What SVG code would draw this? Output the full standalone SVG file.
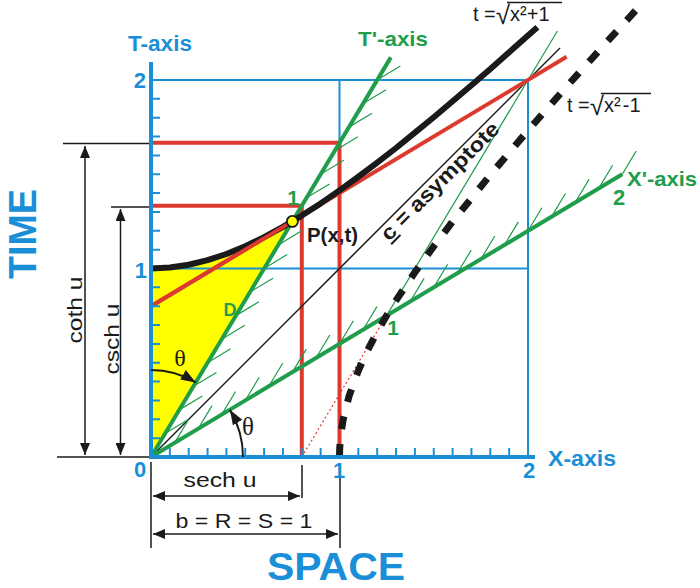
<svg xmlns="http://www.w3.org/2000/svg" width="700" height="588" viewBox="0 0 700 588">
<defs>
<style>
.blue{stroke:#1a8fd8;fill:none}
.red{stroke:#dc3a2f;fill:none;stroke-width:4}
.grn{stroke:#1f9d4b;fill:none}
.blk{stroke:#1a1a1a;fill:none}
.tb{fill:#1a8fd8;font-family:"Liberation Sans",Arial,sans-serif;font-weight:bold}
.tg{fill:#1f9d4b;font-family:"Liberation Sans",Arial,sans-serif;font-weight:bold}
.tk{fill:#1a1a1a;font-family:"Liberation Sans",Arial,sans-serif}
.th{fill:#1a1a1a;font-family:"Liberation Serif","Times New Roman",serif}
</style>
<marker id="arr" viewBox="0 0 12 10" refX="12" refY="5" markerWidth="12" markerHeight="10" markerUnits="userSpaceOnUse" orient="auto-start-reverse">
<path d="M0,0 L12,5 L0,10 z" fill="#1a1a1a"/>
</marker>
<marker id="arrb" viewBox="0 0 15 11" refX="15" refY="5.5" markerWidth="15" markerHeight="11" markerUnits="userSpaceOnUse" orient="auto">
<path d="M0,0 L15,5.5 L0,11 z" fill="#1a1a1a"/>
</marker>
</defs>
<rect width="700" height="588" fill="#ffffff"/>

<g id="sector">
<path d="M151,457 L151,268.5 169.85,267.56 188.7,264.77 207.55,260.2 226.4,254 245.25,246.25 264.1,237.17 282.95,226.9 292.4,221.4 Z" fill="#ffff00"/>
</g>

<g id="grid" class="blue" stroke-width="2">
<path d="M151,80 H528 V457 M151,268.5 H528 M339.5,80 V457"/>
</g>

<g id="red-boxes" class="red">
<path d="M151,142.8 H339.5 V457"/>
<path d="M151,205.7 H301.8 V457"/>
<path d="M301.8,457 L386.6,315.6" stroke-width="1.2" stroke-dasharray="2 2.5"/>
</g>

<g id="asymptote" class="blk" stroke-width="1.5">
<path d="M151,457 L560,48"/>
</g>

<g id="hatches" class="grn" stroke-width="1.2">
<path d="M165.14,433.44 l23.1,-13.9 M179.28,409.88 l23.1,-13.9 M193.41,386.31 l23.1,-13.9 M207.55,362.75 l23.1,-13.9 M221.69,339.19 l23.1,-13.9 M235.83,315.63 l23.1,-13.9 M249.96,292.06 l23.1,-13.9 M264.1,268.5 l23.1,-13.9 M278.24,244.94 l23.1,-13.9 M292.38,221.38 l23.1,-13.9 M306.51,197.81 l23.1,-13.9 M320.65,174.25 l23.1,-13.9 M334.79,150.69 l23.1,-13.9 M348.93,127.13 l23.1,-13.9 M363.06,103.56 l23.1,-13.9 M377.2,80 l23.1,-13.9"/>
<path d="M174.56,442.86 l13.9,-23.1 M198.13,428.73 l13.9,-23.1 M221.69,414.59 l13.9,-23.1 M245.25,400.45 l13.9,-23.1 M268.81,386.31 l13.9,-23.1 M292.38,372.18 l13.9,-23.1 M315.94,358.04 l13.9,-23.1 M339.5,343.9 l13.9,-23.1 M363.06,329.76 l13.9,-23.1 M410.19,301.49 l13.9,-23.1 M433.75,287.35 l13.9,-23.1 M457.31,273.21 l13.9,-23.1 M480.88,259.08 l13.9,-23.1 M504.44,244.94 l13.9,-23.1 M528,230.8 l13.9,-23.1 M551.56,216.66 l13.9,-23.1 M575.13,202.53 l13.9,-23.1 M598.69,188.39 l13.9,-23.1 M622.25,174.25 l13.9,-23.1"/>
<path d="M386.6,315.6 L557.4,31"/>
</g>

<g id="t-prime-axis" class="grn" stroke-width="4">
<path d="M151,457 L390.8,57.4"/>
</g>
<g id="x-prime-axis" class="grn" stroke-width="4">
<path d="M151,457 L622.25,174.25"/>
</g>

<g id="tangent" class="red">
<path d="M151,306.2 L566.6,56.8"/>
</g>

<g id="hyperbola-upper" class="blk" stroke-width="6" stroke-linejoin="round">
<path d="M151,268.5 L169.85,267.56 188.7,264.77 207.55,260.2 226.4,254 245.25,246.25 264.1,237.17 282.95,226.9 301.8,215.6 320.65,203.4 339.5,190.4 358.35,176.8 377.2,162.6 396.05,148 414.9,132.7 433.75,117.2 452.6,101.3 471.45,85.2 490.3,68.9 509.15,52.3 528,35.5 537.4,27.3"/>
</g>
<g id="tangent-top" class="red">
<path d="M151,306.2 L292.4,221.4"/>
</g>

<g id="hyperbola-lower" class="blk" stroke-width="7" stroke-dasharray="13 15">
<path d="M339.5,457 L339.69,448.6 340.44,438.1 341.4,430.3 343.27,419.1 348.9,396.6 358.35,370.6 367.8,349.95 377.2,331.97 386.6,315.6 396.05,300.4 414.9,272.3 433.75,246.25 452.6,221.6 490.3,174.9 528,130.5 565.7,87.6 603.4,45.75 637.3,8.7"/>
</g>

<g id="axes" class="blue">
<path d="M151,62 V459 M149,457 H535" stroke-width="4"/>
<path stroke-width="2" d="M151,438.15h9 M151,419.3h9 M151,400.45h9 M151,381.6h9 M151,362.75h9 M151,343.9h9 M151,325.05h9 M151,306.2h9 M151,287.35h9 M151,249.65h9 M151,230.8h9 M151,211.95h9 M151,193.1h9 M151,174.25h9 M151,155.4h9 M151,136.55h9 M151,117.7h9 M151,98.85h9 M169.85,457v-9 M188.7,457v-9 M207.55,457v-9 M226.4,457v-9 M245.25,457v-9 M264.1,457v-9 M282.95,457v-9 M301.8,457v-9 M320.65,457v-9 M358.35,457v-9 M377.2,457v-9 M396.05,457v-9 M414.9,457v-9 M433.75,457v-9 M452.6,457v-9 M471.45,457v-9 M490.3,457v-9 M509.15,457v-9"/>
</g>

<g id="angles" class="blk" stroke-width="2">
<path d="M151,370 A87,87 0 0 1 195.8,382.4" marker-end="url(#arrb)"/>
<path d="M243,457 A92,92 0 0 0 229.9,409.7" marker-end="url(#arrb)"/>
</g>

<g id="dimensions" class="blk" stroke-width="1.5">
<path d="M63,143.5 H149 M111,207 H149 M57,457 H149 M151,462 V548 M302,465 V498 M340,465 V548"/>
<path d="M85,146 V455" marker-start="url(#arr)" marker-end="url(#arr)"/>
<path d="M120.5,209 V455" marker-start="url(#arr)" marker-end="url(#arr)"/>
<path d="M153,496 H300" marker-start="url(#arr)" marker-end="url(#arr)"/>
<path d="M153,534 H338" marker-start="url(#arr)" marker-end="url(#arr)"/>
</g>

<g id="point-p">
<circle cx="292.4" cy="221.4" r="5.5" fill="#ffff00" stroke="#1a1a1a" stroke-width="1.8"/>
</g>

<g id="labels">
<text class="tb" x="128" y="51" font-size="22" textLength="64" lengthAdjust="spacingAndGlyphs">T-axis</text>
<text class="tb" x="548" y="466" font-size="22" textLength="68" lengthAdjust="spacingAndGlyphs">X-axis</text>
<text class="tb" x="146" y="88" font-size="22" text-anchor="end">2</text>
<text class="tb" x="147" y="278" font-size="22" text-anchor="end">1</text>
<text class="tb" x="140" y="477" font-size="22" text-anchor="middle">0</text>
<text class="tb" x="339" y="478" font-size="22" text-anchor="middle">1</text>
<text class="tb" x="529" y="478" font-size="22" text-anchor="middle">2</text>
<text class="tb" transform="translate(36,234) rotate(-90)" x="0" y="0" font-size="38" text-anchor="middle" textLength="90" lengthAdjust="spacingAndGlyphs">TIME</text>
<text class="tb" x="336" y="580" font-size="38" text-anchor="middle" textLength="138" lengthAdjust="spacingAndGlyphs">SPACE</text>

<text class="tg" x="358" y="46" font-size="21" textLength="70" lengthAdjust="spacingAndGlyphs">T'-axis</text>
<text class="tg" x="627" y="186" font-size="21" textLength="70" lengthAdjust="spacingAndGlyphs">X'-axis</text>
<text class="tg" x="293" y="205" font-size="21" text-anchor="middle">1</text>
<text class="tg" x="393" y="335" font-size="21" text-anchor="middle">1</text>
<text class="tg" x="619" y="205" font-size="22" text-anchor="middle">2</text>
<text class="tg" x="230" y="316" font-size="18" text-anchor="middle">D</text>

<text class="tk" x="307" y="242" font-size="20" font-weight="bold" textLength="51" lengthAdjust="spacingAndGlyphs">P(x,t)</text>
<text class="tk" transform="translate(389,242) rotate(-45)" x="0" y="0" font-size="21" font-weight="bold" textLength="158" lengthAdjust="spacingAndGlyphs"><tspan text-decoration="underline">c</tspan> = asymptote</text>
<text class="tk" transform="translate(81.5,310) rotate(-90)" x="0" y="0" font-size="20" text-anchor="middle" textLength="67" lengthAdjust="spacingAndGlyphs">coth u</text>
<text class="tk" transform="translate(118.5,339) rotate(-90)" x="0" y="0" font-size="20" text-anchor="middle" textLength="71" lengthAdjust="spacingAndGlyphs">csch u</text>
<text class="tk" x="220" y="487" font-size="20" text-anchor="middle" textLength="73" lengthAdjust="spacingAndGlyphs">sech u</text>
<text class="tk" x="244" y="528" font-size="20" text-anchor="middle" textLength="137" lengthAdjust="spacingAndGlyphs">b = R = S = 1</text>
<text class="th" x="180" y="366" font-size="24" text-anchor="middle">θ</text>
<text class="th" x="248" y="435" font-size="25" text-anchor="middle">θ</text>
</g>

<g id="formula-upper">
<text class="tk" x="473" y="21" font-size="20">t =<tspan font-size="26" dy="3">√</tspan><tspan dy="-3">x²+1</tspan></text>
<line x1="507" y1="2.5" x2="562" y2="2.5" stroke="#1a1a1a" stroke-width="1.6"/>
</g>
<g id="formula-lower">
<text class="tk" x="567" y="112" font-size="20">t =<tspan font-size="26" dy="3">√</tspan><tspan dy="-3">x²</tspan><tspan dx="2">-1</tspan></text>
<line x1="601" y1="93.5" x2="651" y2="93.5" stroke="#1a1a1a" stroke-width="1.6"/>
</g>
</svg>
